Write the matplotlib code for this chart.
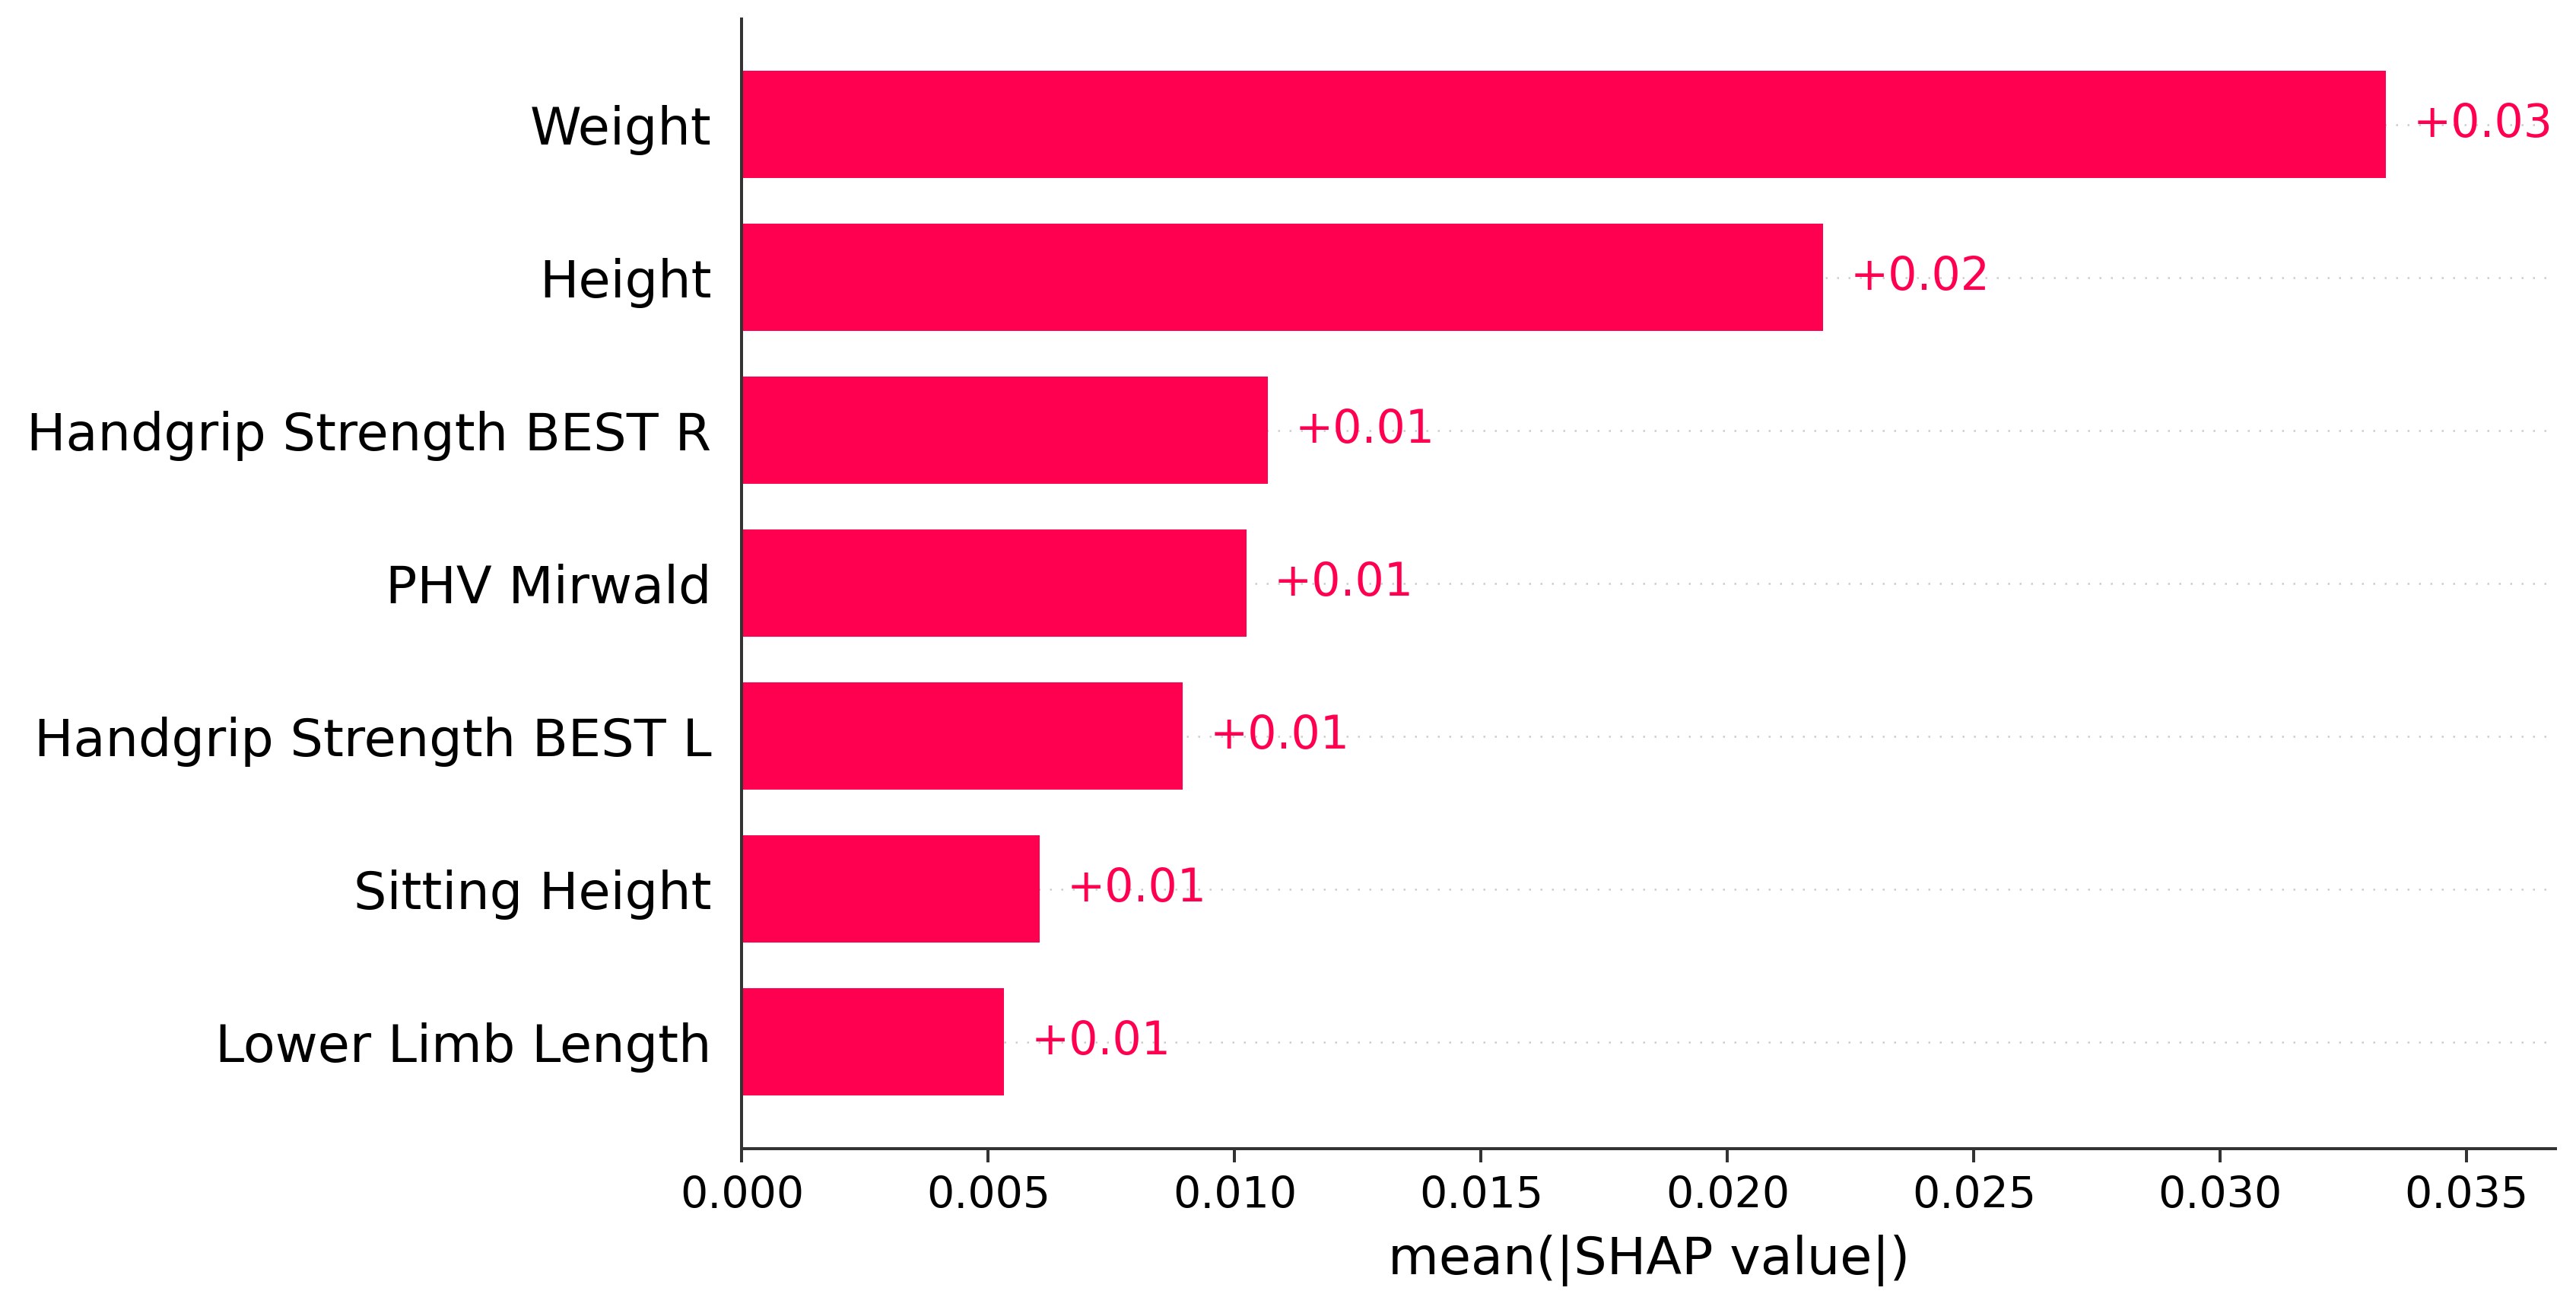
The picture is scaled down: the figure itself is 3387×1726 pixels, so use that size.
import matplotlib.pyplot as plt
import numpy as np

features = ["Weight", "Height", "Handgrip Strength BEST R", "PHV Mirwald",
            "Handgrip Strength BEST L", "Sitting Height", "Lower Limb Length"]
shap_vals = [0.03336, 0.02194, 0.01068, 0.01024, 0.00894, 0.00604, 0.00531]
val_labels = ["+0.03", "+0.02", "+0.01", "+0.01", "+0.01", "+0.01", "+0.01"]

red = "#ff0051"
dpi = 360
fig = plt.figure(figsize=(3387 / dpi, 1726 / dpi), dpi=dpi)
ax = fig.add_axes([0.288, 0.125, 0.704, 0.8605])

y_pos = np.arange(len(features), 0, -1)
for y in y_pos:
    ax.axhline(y, color="#cccccc", lw=0.5, dashes=(1, 5), zorder=-1)
ax.barh(y_pos, shap_vals, height=0.7, color=red, align="center")

off = 0.00055
for y, v, lab in zip(y_pos, shap_vals, val_labels):
    ax.text(v + off, y, lab, ha="left", va="center", color=red, fontsize=12)

ax.set_yticks(y_pos)
ax.set_yticklabels(features, fontsize=13.7)
ax.tick_params(axis="y", length=0, pad=8)
ax.tick_params(axis="x", labelsize=11.4, color="#333333")
ax.set_xlim(0, 0.0368)
ax.set_ylim(0.3, 7.69)
ax.set_xticks(np.arange(0, 0.0351, 0.005))
ax.xaxis.set_major_formatter(plt.FormatStrFormatter("%.3f"))
ax.set_xlabel("mean(|SHAP value|)", fontsize=13.7, labelpad=4.5)

for s in ["top", "right"]:
    ax.spines[s].set_visible(False)
for s in ["left", "bottom"]:
    ax.spines[s].set_color("#333333")

fig.savefig("out.png", dpi=dpi)
